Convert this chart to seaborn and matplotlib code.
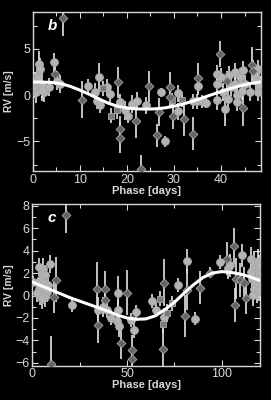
import numpy as np
import pandas as pd
import matplotlib
matplotlib.use("Agg")
import matplotlib.pyplot as plt
import seaborn as sns
from matplotlib.ticker import MultipleLocator

# ---------------- data: panel b ----------------
b_phase = [6.4, 1.3, 1.6, 0.9, 0.5, 0.7, 1.9, 2.4, 3.5, 4.6, 4.8, 5.1, 5.7, 0.3, 1.1, 2.0,
           10.5, 11.65, 13.3, 14.1, 13.6, 14.3, 14.9, 18.1, 16.5, 15.8, 16.7, 17.9, 18.6, 18.6,
           18.6, 19.5, 20.3, 21.0, 22.1, 21.9, 23.0, 24.0, 24.8, 27.3, 26.3, 26.9, 28.0, 29.2,
           29.2, 29.5, 29.9, 30.8, 30.8, 31.8, 32.2, 34.1, 34.0, 35.2, 35.2, 34.8, 36.0, 36.8,
           39.8, 39.1, 39.2, 39.1, 40.1, 40.5, 40.8, 41.2, 41.5, 42.2, 42.9, 43.3, 43.3, 44.0,
           44.4, 44.7, 42.9, 45.1, 46.1, 46.5, 46.8, 47.4, 47.9, 48.2, 47.9, 47.2, 44.6, 41.8]
b_rv = [8.3, 3.4, 2.84, 2.1, 1.2, 0.32, 1.05, 0.3, 0.86, 3.56, 2.3, 1.58, 1.2, 0.9, 1.9, 0.6,
        -0.47, 0.97, 0.4, 1.94, -0.58, -1.1, 0.75, 1.4, 0.15, 0.86, -2.2, -1.65, -0.75, -3.7,
        -4.6, -1.65, -2.2, -0.93, -0.58, -2.84, -7.95, -1.1, 0.97, 0.32, -4.35, -1.83, -5.0, 0.86,
        -0.2, -0.57, -2.2, 0.2, -1.76, -0.47, -2.6, -4.17, -0.68, 1.83, 0.97, -0.68, -0.68, -0.83,
        4.46, 2.3, 1.22, -0.57, 1.94, 0.32, -1.54, 1.58, -0.4, 0.86, 2.5, -0.03, -0.75, 1.94,
        0.5, -1.4, 1.2, 1.2, 0.4, 3.27, 2.66, 1.58, 2.84, 1.05, 0.32, 2.3, 2.7, 2.2]
b_err = [1.9, 1.4, 1.2, 1.2, 1.3, 1.2, 1.3, 1.0, 1.0, 1.0, 1.2, 1.0, 1.0, 1.2, 1.3, 1.2,
         2.0, 0.8, 0.9, 1.5, 0.9, 0.8, 0.8, 1.7, 0.9, 0.9, 0.8, 0.9, 0.9, 1.5,
         1.7, 1.0, 0.8, 1.0, 0.9, 1.8, 1.5, 0.9, 1.7, 0.5, 1.2, 1.5, 0.6, 1.7,
         1.2, 0.8, 1.5, 0.9, 0.9, 0.8, 1.8, 1.8, 0.8, 1.6, 0.9, 0.8, 0.7, 0.6,
         1.4, 1.0, 1.0, 1.0, 1.0, 1.0, 1.8, 1.0, 1.0, 1.0, 1.0, 1.0, 1.0, 1.0,
         1.0, 1.9, 1.0, 1.0, 1.0, 1.9, 1.2, 1.0, 1.0, 1.0, 1.0, 1.0, 1.0, 1.0]
# c = circle, d = diamond, s = square
b_kind = list("dcccccccccdccccc"
              "dcccccsdccsscd"
              "dccccddcdcddcd"
              "dsdccsddcdcccc"
              "dccccccdcccccc"
              "cdcccddccccccc")

b_model_phase = [0, 2, 4, 6, 8, 10, 12, 14, 16, 18, 20, 22, 24, 26, 28, 30, 32, 34, 36, 38,
                 40, 42, 44, 46, 48.5]
b_model_rv = [1.43, 1.42, 1.38, 1.25, 0.95, 0.55, 0.1, -0.4, -0.85, -1.2, -1.38, -1.48, -1.5,
              -1.48, -1.38, -1.2, -0.95, -0.65, -0.3, 0.05, 0.4, 0.72, 1.0, 1.25, 1.43]

# ---------------- data: panel c ----------------
c_phase = [17.8, 9.7, 9.3, 12.5, 11.5, 5.8, 3.7, 5.0, 6.7, 4.1, 6.2, 0.5, 3.7, 5.8, 7.6, 4.1,
           6.7, 2.3, 8.5, 4.9, 20.8, 34.0, 34.5, 34.9, 38.4, 38.4, 37.2, 39.3, 41.6, 45.4,
           45.1, 44.6, 45.8, 46.8, 49.8, 52.1, 52.5, 52.5, 53.9, 54.6, 63.4, 65.2, 67.4, 69.7,
           69.7, 69.2, 71.0, 69.2, 73.6, 76.8, 80.3, 81.5, 81.8, 85.9, 88.5, 93.5, 99.1, 102.6,
           103.5, 104.4, 106.5, 107.0, 107.5, 109.7, 110.6, 111.8, 112.8, 115.4, 117.2, 118.9,
           119.8, 116.3, 118.0, 119.5, 115.8, 117.5, 119.2, 116.8, 118.6, 119.6, 116.3, 119.6, 115.4]
c_rv = [7.13, -6.1, 2.84, 1.42, -0.1, 2.4, 2.55, 1.95, 1.8, 1.36, 1.07, 1.22, 0.62, 0.41, 0.33,
        0.03, -0.12, 0.18, 0.92, -0.3, -0.86, 0.62, -1.3, -2.63, 0.62, -0.4, -1.0, -1.3, -2.0,
        0.24, -1.3, -2.25, -2.72, -4.26, 0.24, -2.19, -4.86, -5.68, -3.08, -1.45, -0.47, -1.3,
        -0.27, 1.13, -1.9, -2.55, -1.6, -4.8, -0.7, 0.92, -1.83, 3.08, 0.53, -2.05, 0.71, 2.04,
        3.0, 3.29, 2.49, 2.69, 4.38, -0.86, 1.51, 1.36, 3.58, 1.07, -0.18, 3.29, 3.0, 3.1, 2.6,
        2.4, 2.1, 1.9, 1.5, 1.22, 0.9, 0.62, 0.33, 0.5, 0.03, 1.5, 2.1]
c_err = [1.6, 2.5, 0.8, 2.0, 1.5, 0.9, 0.8, 0.9, 0.9, 0.9, 1.0, 0.5, 0.9, 1.0, 0.9, 0.9,
         0.9, 0.8, 0.9, 0.9, 0.6, 2.4, 1.2, 1.6, 1.6, 1.0, 0.9, 0.7, 0.6, 1.5,
         0.9, 0.8, 1.0, 1.4, 2.0, 0.6, 1.3, 1.0, 0.7, 0.6, 0.6, 0.6, 0.7, 2.1,
         0.8, 0.8, 0.8, 1.8, 0.7, 0.6, 1.9, 1.1, 1.8, 0.6, 1.5, 0.5, 0.6, 1.5,
         1.0, 1.0, 1.6, 1.5, 1.8, 1.5, 1.0, 1.5, 1.5, 1.0, 1.0, 1.0,
         1.0, 1.0, 1.0, 1.0, 1.0, 1.0, 1.0, 1.0, 1.0, 1.0, 1.0, 1.0, 1.0]
c_kind = list("ddcddccccccccccc"
              "cccccdcdddcccc"
              "cccddcddccccsd"
              "cssdscdcdcddcd"
              "ccddddcddccc"
              "ccccccccccccc")

c_model_phase = [0, 5, 10, 15, 20, 25, 30, 35, 40, 45, 50, 55, 60, 65, 70, 75, 80, 85, 90, 95,
                 100, 105, 110, 115, 120]
c_model_rv = [1.2, 0.85, 0.5, 0.15, -0.2, -0.5, -0.8, -1.1, -1.4, -1.75, -2.0, -2.12, -2.08,
              -1.8, -1.25, -0.6, 0.2, 0.95, 1.6, 2.0, 2.13, 2.05, 1.9, 1.65, 1.33]

# ---------------- style ----------------
sns.set_theme(style="dark")
plt.rcParams["font.family"] = ["Liberation Sans", "DejaVu Sans"]
FG = "#d8d8d8"

fig = plt.figure(figsize=(2.71, 4.0), dpi=100, facecolor="black")
ax_b = fig.add_axes([0.121, 0.5725, 0.842, 0.3975])
ax_c = fig.add_axes([0.119, 0.0858, 0.841, 0.4042])

markers = {"c": "o", "d": "D", "s": "s"}
fills = {"c": "#b4b4b4", "d": "#646464", "s": "#7a7a7a"}
sizes = {"c": 32, "d": 20, "s": 24}


def draw(ax, phase, rv, err, kind, mphase, mrv, xlim, ylim, xmaj, xmin, ymaj, ymin, letter):
    ax.set_facecolor("black")
    df = pd.DataFrame({"phase": phase, "rv": rv, "err": err, "kind": kind})
    ax.errorbar(df["phase"], df["rv"], yerr=df["err"], fmt="none", ecolor="#e4e4e4",
                elinewidth=1.2, capsize=0, zorder=2)
    for k in ["c", "s", "d"]:
        sub = df[df["kind"] == k]
        sns.scatterplot(data=sub, x="phase", y="rv", marker=markers[k], s=sizes[k],
                        color=fills[k], edgecolor="#a8a8a8", linewidth=0.6, ax=ax,
                        zorder=3, legend=False)
    mdf = pd.DataFrame({"phase": mphase, "rv": mrv})
    sns.lineplot(data=mdf, x="phase", y="rv", color="white", linewidth=2.2, ax=ax,
                 zorder=4, legend=False)
    ax.set_xlim(*xlim)
    ax.set_ylim(*ylim)
    ax.xaxis.set_major_locator(MultipleLocator(xmaj))
    ax.xaxis.set_minor_locator(MultipleLocator(xmin))
    ax.yaxis.set_major_locator(MultipleLocator(ymaj))
    ax.yaxis.set_minor_locator(MultipleLocator(ymin))
    ax.tick_params(which="both", direction="in", top=True, right=True, bottom=True, left=True,
                   color=FG, labelcolor=FG, width=0.8, labelsize=9, pad=2)
    ax.tick_params(which="major", length=4)
    ax.tick_params(which="minor", length=3)
    for sp in ax.spines.values():
        sp.set_color(FG)
        sp.set_linewidth(1.0)
        sp.set_visible(True)
    ax.grid(False)
    ax.set_xlabel("Phase [days]", color=FG, fontsize=8, fontweight="bold", labelpad=0)
    ax.set_ylabel("RV [m/s]", color=FG, fontsize=7.4, fontweight="bold", labelpad=1)
    ax.text(0.065, 0.915, letter, transform=ax.transAxes, color="white", fontsize=11,
            fontweight="bold", fontstyle="italic", va="center", ha="left", zorder=5)


draw(ax_b, b_phase, b_rv, b_err, b_kind, b_model_phase, b_model_rv,
     (0, 48.5), (-8.2, 9.0), 10, 5, 5, 2.5, "b")
draw(ax_c, c_phase, c_rv, c_err, c_kind, c_model_phase, c_model_rv,
     (0, 120.2), (-6.25, 8.15), 50, 25, 2, 1, "c")

fig.savefig("out.png", dpi=100, facecolor="black")
